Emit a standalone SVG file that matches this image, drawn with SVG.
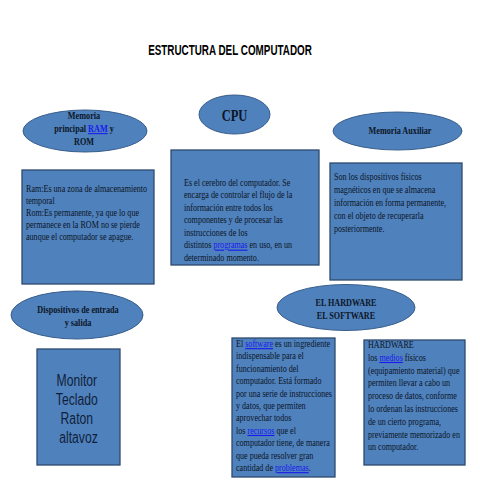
<svg xmlns="http://www.w3.org/2000/svg" width="480" height="480" viewBox="0 0 480 480">
<style>
.bg{fill:#ffffff}
.ell{fill:#4f81bd;stroke:#385d8a;stroke-width:1}
.box{fill:#4f81bd;stroke:#2d4a6e;stroke-width:1.3}
.body{font-family:"Liberation Serif","Times New Roman",serif;font-size:11px;fill:#0c1626}
.lbl{font-family:"Liberation Serif","Times New Roman",serif;font-size:10.5px;font-weight:bold;fill:#0c1626;text-anchor:middle}
.cpu{font-family:"Liberation Serif","Times New Roman",serif;font-size:16px;font-weight:bold;fill:#0c1626;text-anchor:middle}
.sans{font-family:"Liberation Sans",Arial,sans-serif;font-size:16px;fill:#0f1f3a;text-anchor:middle}
.title{font-family:"Liberation Sans",Arial,sans-serif;font-size:14px;font-weight:bold;fill:#000;text-anchor:middle}
.link{fill:#1a1aee;text-decoration:underline}
</style>
<rect class="bg" x="0" y="0" width="480" height="480"/>
<g id="title"><g transform="translate(230,0) scale(0.705,1)"><text class="title" x="0" y="55">ESTRUCTURA DEL COMPUTADOR</text></g></g>
<g id="connectors"></g>

<g id="memoria-principal">
<ellipse class="ell" cx="85" cy="131" rx="62" ry="21"/>
<g transform="translate(84,0) scale(0.78,1)"><text class="lbl" x="0" y="119">Memoria</text><text class="lbl" x="0" y="132">principal <tspan class="link">RAM</tspan> y</text><text class="lbl" x="0" y="145">ROM</text></g>
</g>

<g id="cpu">
<ellipse class="ell" cx="234.5" cy="114.5" rx="35.5" ry="19.5"/>
<g transform="translate(234.5,0) scale(0.78,1)"><text class="cpu" x="0" y="121">CPU</text></g>
</g>

<g id="memoria-auxiliar">
<ellipse class="ell" cx="397.5" cy="131" rx="64.5" ry="19"/>
<g transform="translate(400,0) scale(0.78,1)"><text class="lbl" x="0" y="134.5">Memoria Auxiliar</text></g>
</g>

<g id="ram-rom-box">
<rect class="box" x="22" y="170" width="132" height="114"/>
<g transform="translate(26,0) scale(0.735,1)"><text class="body">
<tspan x="0" y="192">Ram:Es una zona de almacenamiento</tspan>
<tspan x="0" y="204">temporal</tspan>
<tspan x="0" y="216">Rom:Es permanente, ya que lo que</tspan>
<tspan x="0" y="228">permanece en la ROM no se pierde</tspan>
<tspan x="0" y="240">aunque el computador se apague.</tspan>
</text></g>
</g>

<g id="cpu-box">
<rect class="box" x="171" y="150" width="148" height="115"/>
<g transform="translate(184,0) scale(0.735,1)"><text class="body">
<tspan x="0" y="186">Es el cerebro del computador. Se</tspan>
<tspan x="0" y="198.5">encarga de controlar el flujo de la</tspan>
<tspan x="0" y="211">información entre todos los</tspan>
<tspan x="0" y="223.5">componentes y de procesar las</tspan>
<tspan x="0" y="236">instrucciones de los</tspan>
<tspan x="0" y="248.5">distintos <tspan class="link">programas</tspan> en uso, en un</tspan>
<tspan x="0" y="261">determinado momento.</tspan>
</text></g>
</g>

<g id="auxiliar-box">
<rect class="box" x="330" y="163" width="132" height="117"/>
<g transform="translate(334,0) scale(0.735,1)"><text class="body">
<tspan x="0" y="180">Son los dispositivos físicos</tspan>
<tspan x="0" y="193">magnéticos en que se almacena</tspan>
<tspan x="0" y="206">información en forma permanente,</tspan>
<tspan x="0" y="219">con el objeto de recuperarla</tspan>
<tspan x="0" y="232">posteriormente.</tspan>
</text></g>
</g>

<g id="dispositivos">
<ellipse class="ell" cx="77" cy="315" rx="66" ry="24"/>
<g transform="translate(78,0) scale(0.78,1)"><text class="lbl" x="0" y="313">Dispositivos de entrada</text><text class="lbl" x="0" y="326">y salida</text></g>
</g>

<g id="hardware-software">
<ellipse class="ell" cx="346" cy="307.5" rx="69" ry="23"/>
<g transform="translate(346,0) scale(0.78,1)"><text class="lbl" x="0" y="306">EL HARDWARE</text><text class="lbl" x="0" y="319">EL SOFTWARE</text></g>
</g>

<g id="dispositivos-box">
<rect class="box" x="37" y="349" width="83" height="116"/>
<g transform="translate(78.5,0) scale(0.76,1)"><text class="sans">
<tspan x="0" y="386">Monitor</tspan>
<tspan x="0" y="405">Teclado</tspan>
<tspan x="0" y="424">Raton</tspan>
<tspan x="0" y="443">altavoz</tspan>
</text></g>
</g>

<g id="software-box">
<rect class="box" x="232" y="338" width="103" height="139"/>
<g transform="translate(236,0) scale(0.735,1)"><text class="body">
<tspan x="0" y="347">El <tspan class="link">software</tspan> es un ingrediente</tspan>
<tspan x="0" y="359.4">indispensable para el</tspan>
<tspan x="0" y="371.8">funcionamiento del</tspan>
<tspan x="0" y="384.2">computador. Está formado</tspan>
<tspan x="0" y="396.6">por una serie de instrucciones</tspan>
<tspan x="0" y="409">y datos, que permiten</tspan>
<tspan x="0" y="421.4">aprovechar todos</tspan>
<tspan x="0" y="433.8">los <tspan class="link">recursos</tspan> que el</tspan>
<tspan x="0" y="446.2">computador tiene, de manera</tspan>
<tspan x="0" y="458.6">que pueda resolver gran</tspan>
<tspan x="0" y="471">cantidad de <tspan class="link">problemas</tspan>.</tspan>
</text></g>
</g>

<g id="hardware-box">
<rect class="box" x="364" y="340" width="101" height="125"/>
<g transform="translate(368,0) scale(0.735,1)"><text class="body">
<tspan x="0" y="348">HARDWARE</tspan>
<tspan x="0" y="360.8">los <tspan class="link">medios</tspan> físicos</tspan>
<tspan x="0" y="373.6">(equipamiento material) que</tspan>
<tspan x="0" y="386.4">permiten llevar a cabo un</tspan>
<tspan x="0" y="399.2">proceso de datos, conforme</tspan>
<tspan x="0" y="412">lo ordenan las instrucciones</tspan>
<tspan x="0" y="424.8">de un cierto programa,</tspan>
<tspan x="0" y="437.6">previamente memorizado en</tspan>
<tspan x="0" y="450.4">un computador.</tspan>
</text></g>
</g>
</svg>
